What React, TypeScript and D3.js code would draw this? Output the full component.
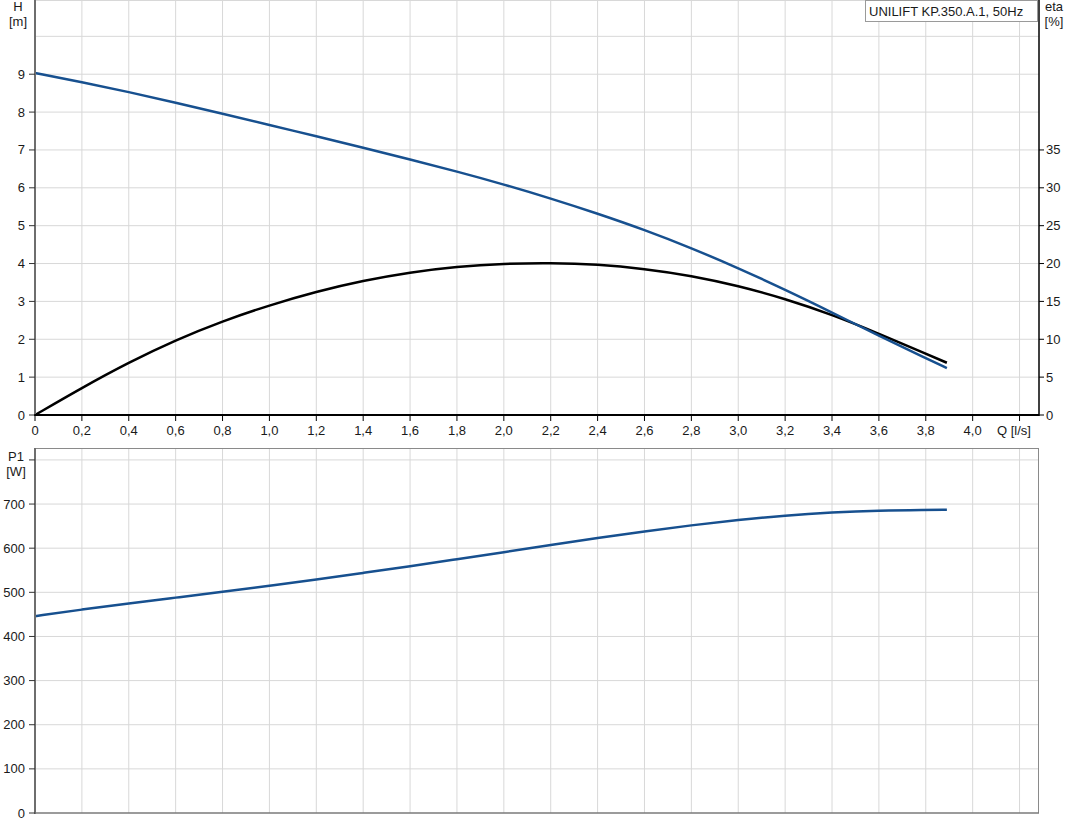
import React from 'react';
import { scaleLinear, line, curveBasis, range } from 'd3';

// flow points (l/s) shared by all curves
const flow = [0, 0.2, 0.4, 0.6, 0.8, 1.0, 1.2, 1.4, 1.6, 1.8, 2.0, 2.2, 2.4, 2.6, 2.8, 3.0, 3.2, 3.4, 3.6, 3.8, 3.89];
// head H [m]
const head = [9.03, 8.79, 8.53, 8.25, 7.96, 7.66, 7.36, 7.06, 6.75, 6.43, 6.09, 5.72, 5.32, 4.89, 4.41, 3.88, 3.31, 2.71, 2.09, 1.5, 1.24];
// efficiency eta [%]
const eta = [0, 3.6, 6.95, 9.9, 12.4, 14.5, 16.3, 17.75, 18.85, 19.6, 20.0, 20.1, 19.9, 19.3, 18.4, 17.05, 15.35, 13.25, 10.75, 8.1, 6.9];
// power P1 [W]
const power = [446, 461, 475, 488, 501, 515, 529, 544, 559, 575, 591, 607, 623, 638, 652, 664, 674, 681, 685.5, 687, 687];

const qTicks = range(0, 22).map(i => +(i * 0.2).toFixed(1)); // 0 .. 4.2
const hTicks = [0, 1, 2, 3, 4, 5, 6, 7, 8, 9];
const hGrid = [1, 2, 3, 4, 5, 6, 7, 8, 9, 10];
const etaTicks = [0, 5, 10, 15, 20, 25, 30, 35];
const pTicks = [0, 100, 200, 300, 400, 500, 600, 700, 800];
const pLabels = [0, 100, 200, 300, 400, 500, 600, 700];

const legendText = 'UNILIFT KP.350.A.1, 50Hz';

const width = 1071;
const height = 833;
const left = 35;
const right = 1039;
const top1 = 0;
const bottom1 = 415;
const top2 = 448;
const bottom2 = 813;

const font = '"Liberation Sans", Arial, sans-serif';
const gridColor = '#d8d8d8';
const textColor = '#1a1a1a';
const blue = '#17508f';

const fmt = (v: number) => (v === 0 ? '0' : v.toFixed(1).replace('.', ','));

export default function App() {
  const x = scaleLinear().domain([0, 4.283]).range([left, right]);
  const yH = scaleLinear().domain([0, 10.96]).range([bottom1, top1]);
  const yEta = scaleLinear().domain([0, 54.8]).range([bottom1, top1]);
  const yP = scaleLinear().domain([0, 827]).range([bottom2, top2]);

  const hLine = line<number>().x((_, i) => x(flow[i])).y(d => yH(d)).curve(curveBasis);
  const etaLine = line<number>().x((_, i) => x(flow[i])).y(d => yEta(d)).curve(curveBasis);
  const pLine = line<number>().x((_, i) => x(flow[i])).y(d => yP(d)).curve(curveBasis);

  return (
    <div style={{ position: 'absolute', left: 0, top: 0 }}>
      <svg width={width} height={height} style={{ display: 'block', background: '#fff' }} fontFamily={font} fontSize={13}>
        {/* top panel grid */}
        {qTicks.slice(1).map(q => (
          <line key={'vg1' + q} x1={x(q)} x2={x(q)} y1={top1} y2={bottom1} stroke={gridColor} />
        ))}
        {hGrid.map(h => (
          <line key={'hg1' + h} x1={left} x2={right} y1={yH(h)} y2={yH(h)} stroke={gridColor} />
        ))}
        <line x1={left} x2={right} y1={0.5} y2={0.5} stroke={gridColor} />

        {/* curves top */}
        <path d={etaLine(eta) || ''} fill="none" stroke="#000" strokeWidth={2.5} />
        <path d={hLine(head) || ''} fill="none" stroke={blue} strokeWidth={2.5} />

        {/* top axes */}
        <line x1={left} x2={left} y1={top1} y2={bottom1} stroke="#6e6e6e" strokeWidth={2} />
        <line x1={left - 1} x2={right} y1={bottom1} y2={bottom1} stroke="#000" strokeWidth={2} />
        <line x1={right} x2={right} y1={top1} y2={bottom1 + 1} stroke="#000" strokeWidth={1.5} />
        {hTicks.map(h => (
          <g key={'ht' + h}>
            <line x1={29} x2={left} y1={yH(h)} y2={yH(h)} stroke="#333" />
            <text x={25} y={yH(h)} dy="0.35em" textAnchor="end" fill={textColor}>{h}</text>
          </g>
        ))}
        {etaTicks.map(e => (
          <g key={'et' + e}>
            <line x1={right} x2={right + 5} y1={yEta(e)} y2={yEta(e)} stroke="#000" />
            <text x={right + 7} y={yEta(e)} dy="0.35em" fill={textColor}>{e}</text>
          </g>
        ))}
        {qTicks.map(q => (
          <g key={'qt' + q}>
            <line x1={x(q)} x2={x(q)} y1={bottom1} y2={bottom1 + 6} stroke="#000" />
            {q <= 4.0 && (
              <text x={x(q)} y={bottom1 + 20} textAnchor="middle" fill={textColor}>{fmt(q)}</text>
            )}
          </g>
        ))}
        <text x={997} y={bottom1 + 20} fill={textColor}>Q [l/s]</text>
        <text x={18} y={11} textAnchor="middle" fill={textColor}>H</text>
        <text x={18} y={26} textAnchor="middle" fill={textColor}>[m]</text>
        <text x={1054} y={11} textAnchor="middle" fill={textColor}>eta</text>
        <text x={1054} y={26} textAnchor="middle" fill={textColor}>[%]</text>

        {/* legend */}
        <rect x={865.5} y={0.5} width={172} height={21} fill="#fff" stroke="#9a9a9a" />
        <text x={869} y={16} fill={textColor}>{legendText}</text>

        {/* bottom panel grid */}
        {qTicks.slice(1).map(q => (
          <line key={'vg2' + q} x1={x(q)} x2={x(q)} y1={top2} y2={bottom2} stroke={gridColor} />
        ))}
        {pTicks.slice(1).map(p => (
          <line key={'pg' + p} x1={left} x2={right} y1={yP(p)} y2={yP(p)} stroke={gridColor} />
        ))}
        <path d={pLine(power) || ''} fill="none" stroke={blue} strokeWidth={2.5} />

        {/* bottom axes */}
        <line x1={left} x2={right} y1={top2 + 0.5} y2={top2 + 0.5} stroke="#8a8a8a" />
        <line x1={right - 0.5} x2={right - 0.5} y1={top2} y2={bottom2} stroke="#8a8a8a" />
        <line x1={left} x2={right} y1={bottom2} y2={bottom2} stroke="#7a7a7a" strokeWidth={1.5} />
        <line x1={left} x2={left} y1={top2} y2={bottom2 + 1} stroke="#6e6e6e" strokeWidth={2} />
        {pTicks.map(p => (
          <line key={'pt' + p} x1={29} x2={left} y1={yP(p)} y2={yP(p)} stroke="#333" />
        ))}
        {pLabels.map(p => (
          <text key={'pl' + p} x={25} y={yP(p)} dy="0.35em" textAnchor="end" fill={textColor}>{p}</text>
        ))}
        <text x={16} y={461} textAnchor="middle" fill={textColor}>P1</text>
        <text x={16} y={476} textAnchor="middle" fill={textColor}>[W]</text>
      </svg>
    </div>
  );
}
